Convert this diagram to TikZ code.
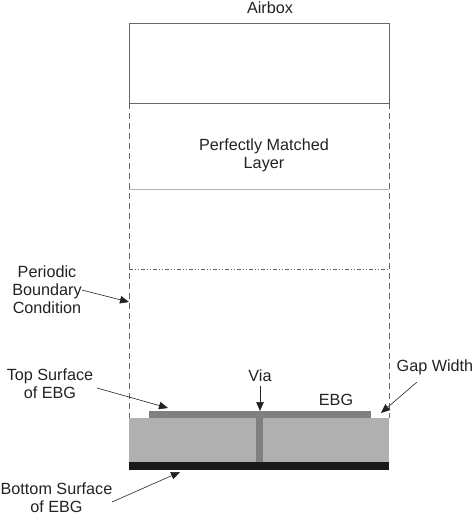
\documentclass[tikz,border=0pt]{standalone}
\usepackage{fontspec}
\setmainfont{Liberation Sans}
\usetikzlibrary{arrows.meta}
\definecolor{ink}{HTML}{222222}
\definecolor{sub}{HTML}{B0B0B0}
\definecolor{metal}{HTML}{808080}
\tikzset{
 lbl/.style={align=center,inner sep=0pt,text=ink,font=\fontsize{16.2}{18}\selectfont},
 solidline/.style={draw=black!60,line width=0.9pt},
 paleline/.style={draw=black!30,line width=0.9pt},
 dashline/.style={draw=black!60,line width=0.7pt,dash pattern=on 6pt off 4pt},
 dotline/.style={draw=black!60,line width=0.7pt,dash pattern=on 4pt off 2pt on 1pt off 2pt on 1pt off 2pt},
 arr/.style={draw=ink,line width=0.6pt,-{Triangle[length=9pt,width=7.5pt]}}
}
\begin{document}
\begin{tikzpicture}[x=1pt,y=-1pt]
\useasboundingbox (0,0) rectangle (474,515);
% boundary corners
\coordinate (tl) at (129,23); \coordinate (tr) at (389,23);
\coordinate (al) at (129,103); \coordinate (ar) at (389,103);
\coordinate (pl) at (129,189); \coordinate (pr) at (389,189);
\coordinate (ql) at (129,269.5); \coordinate (qr) at (389,269.5);
\coordinate (sl) at (129,418); \coordinate (sr) at (389,418);
% substrate, patch, via, ground
\fill[sub] (129,418) rectangle (389,462);
\fill[metal] (148.5,411) rectangle (371,418);
\fill[metal] (255.5,418) rectangle (263,462);
\fill[black!90] (129,462) rectangle (389,470);
% airbox and layers
\draw[solidline] (al) -- (tl) -- (tr) -- (ar);
\draw[solidline] (al) -- (ar);
\draw[paleline] (pl) -- (pr);
\draw[dotline] (ql) -- (qr);
\draw[dashline] (al) -- (sl);
\draw[dashline] (ar) -- (sr);
% labels
\node[lbl] (airbox) at (270,7.5) {Airbox};
\node[lbl] (pml) at (264,155.5) {Perfectly Matched\\Layer};
\node[lbl] (pbc) at (47,290) {Periodic\\Boundary\\Condition};
\node[lbl] (top) at (50,384) {Top Surface\\of EBG};
\node[lbl] (via) at (260,376) {Via};
\node[lbl] (ebg) at (336,400) {EBG};
\node[lbl] (gap) at (435,367.5) {Gap Width};
\node[lbl] (bot) at (56.5,497.5) {Bottom Surface\\of EBG};
% arrow targets
\coordinate (pbcT) at (129,302);
\coordinate (topS) at (97,388); \coordinate (topT) at (168,408);
\coordinate (viaT) at (260,411);
\coordinate (gapS) at (417,382); \coordinate (gapT) at (381,413);
\coordinate (botS) at (112,502); \coordinate (botT) at (180,472);
\draw[arr] (pbc.east) -- (pbcT);
\draw[arr] (topS) -- (topT);
\draw[arr,shorten <=4pt] (via.south) -- (viaT);
\draw[arr] (gapS) -- (gapT);
\draw[arr] (botS) -- (botT);
\end{tikzpicture}
\end{document}
